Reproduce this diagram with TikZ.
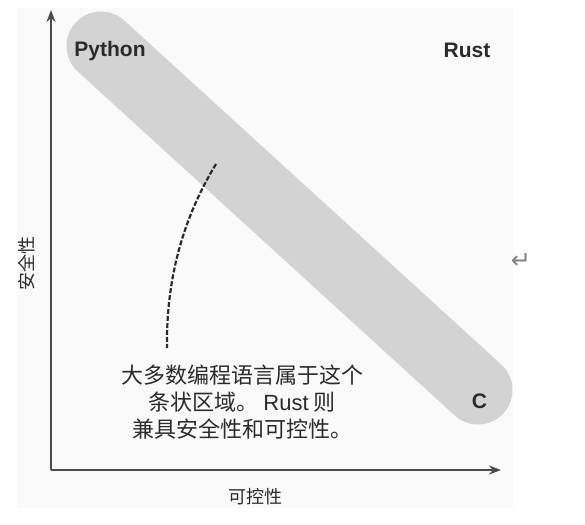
\documentclass[tikz,border=0pt]{standalone}
\usepackage{fontspec}
\usepackage{tikz}
\usetikzlibrary{arrows.meta}
\setmainfont{Liberation Sans}
\newfontfamily\cjk{Noto Sans CJK SC}
\newfontfamily\symb{DejaVu Sans}
\definecolor{inkgray}{HTML}{2B2B2B}
\definecolor{bandgray}{HTML}{D3D3D3}
\definecolor{pagegray}{HTML}{FAFAFA}

\begin{document}
\begin{tikzpicture}[x=1pt,y=-1pt,
  lang/.style={font=\fontsize{21}{24}\selectfont\bfseries,text=inkgray,anchor=base,inner sep=0pt},
  axis/.style={line width=1.9pt,draw=inkgray!85,-{Stealth[length=12pt,width=9pt]}},
  axlabel/.style={font=\cjk\fontsize{18}{20}\selectfont,text=inkgray,inner sep=0pt}]
\useasboundingbox (0,0) rectangle (585,524);
\fill[pagegray] (17,8) rectangle (513,508);

% band from Python down to C
\coordinate (B1) at (101,46);
\coordinate (B2) at (478,390);
\draw[bandgray,line width=69pt,line cap=round] (B1)--(B2);

\node[lang] (PY) at (110,57) {Python};
\node[lang] (RS) at (467,58) {Rust};
\node[lang] (CC) at (479.5,408) {C};

% axes
\coordinate (O) at (51,470);
\coordinate (YT) at (51,10);
\coordinate (XT) at (501,470);
\draw[axis] (O)--(YT);
\draw[axis] (O)--(XT);
\node[axlabel] (XL) at (255,497) {可控性};
\node[axlabel,rotate=90] (YL) at (27,263) {安全性};

% note and pointer
\node[font=\cjk\fontsize{22}{27}\selectfont,text=inkgray,align=center,inner sep=0pt] (NOTE) at (242,402)
  {大多数编程语言属于这个\\条状区域。 {\fontspec{Liberation Sans}Rust} 则\\兼具安全性和可控性。};
\coordinate (P1) at (216,164);
\coordinate (P2) at (167,348);
\draw[inkgray,line width=2.2pt,dash pattern=on 5pt off 2pt] (P1) .. controls (185,215) and (166,275) .. (P2);

\node[font=\symb\fontsize{24}{26}\selectfont,text=gray,inner sep=0pt] (RET) at (521,261) {↵};
\end{tikzpicture}
\end{document}
